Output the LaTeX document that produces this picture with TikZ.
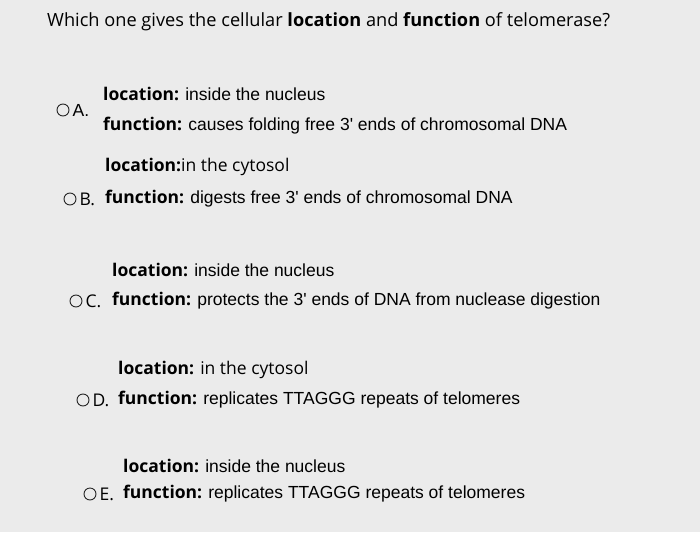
\documentclass[tikz,border=0pt]{standalone}
\usepackage{fontspec}
\setmainfont{Open Sans}
\newfontfamily\arialfont{Liberation Sans}
\usetikzlibrary{positioning}
\tikzset{
  txt/.style={anchor=west,inner sep=0pt,font=\fontsize{17.5}{20}\selectfont},
  radio/.style={circle,draw=black!85,line width=.9pt,minimum size=12pt,inner sep=0pt},
}
\newcommand{\lab}[1]{\textbf{#1}}
\begin{document}
\begin{tikzpicture}[x=1pt,y=-1pt]
\useasboundingbox[fill=black!8] (0,0) rectangle (700,532);
\node[txt,font=\fontsize{18.2}{21}\selectfont] (title) at (47,22) {Which one gives the cellular \lab{location} and \lab{function} of telomerase?};
%
\node[radio] (ra) at (63,110) {};
\node[txt,right=3pt of ra] (a) {\arialfont A.};
\node[txt] (la) at (103,94) {\lab{location:} \arialfont inside the nucleus};
\node[txt] (fa) at (103,126) {\lab{function:} \arialfont causes folding free 3' ends of chromosomal DNA};
%
\node[txt] (lb) at (105,167) {\lab{location:}in the cytosol};
\node[radio] (rb) at (70,199) {};
\node[txt,right=3pt of rb] (b) {B.};
\node[txt] (fb) at (105,199) {\lab{function:} \arialfont digests free 3' ends of chromosomal DNA};
%
\node[txt] (lc) at (112,270) {\lab{location:} \arialfont inside the nucleus};
\node[radio] (rc) at (76,301) {};
\node[txt,right=3pt of rc] (c) {C.};
\node[txt] (fc) at (112,301) {\lab{function:} \arialfont protects the 3' ends of DNA from nuclease digestion};
%
\node[txt] (ld) at (118,370) {\lab{location:} in the cytosol};
\node[radio] (rd) at (83,400) {};
\node[txt,right=3pt of rd] (d) {D.};
\node[txt] (fd) at (118,400) {\lab{function:} \arialfont replicates TTAGGG repeats of telomeres};
%
\node[txt] (le) at (123,466) {\lab{location:} \arialfont inside the nucleus};
\node[radio] (re) at (90,494) {};
\node[txt,right=3pt of re] (e) {E.};
\node[txt] (fe) at (123,494) {\lab{function:} \arialfont replicates TTAGGG repeats of telomeres};
\end{tikzpicture}
\end{document}
